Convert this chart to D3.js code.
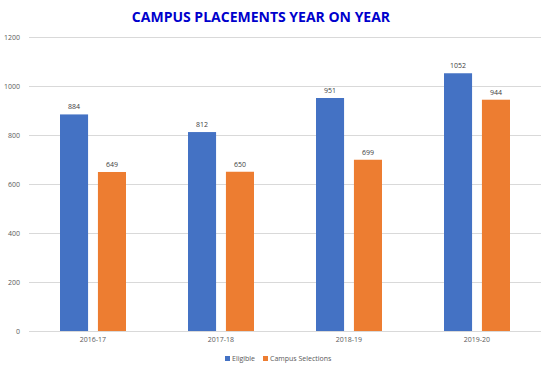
<!DOCTYPE html>
<html>
<head>
<meta charset="utf-8">
<script src="https://cdn.jsdelivr.net/npm/d3@7"></script>
<style>
  html, body { margin: 0; padding: 0; background: #fff; }
  svg { display: block; font-family: "Open Sans", "Noto Sans", sans-serif; }
</style>
</head>
<body>
<svg id="chart" width="550" height="370"></svg>
<script>
const categories = ["2016-17", "2017-18", "2018-19", "2019-20"];
const seriesNames = ["Eligible", "Campus Selections"];
const eligible = [884, 812, 951, 1052];
const selections = [649, 650, 699, 944];
const yTicks = [0, 200, 400, 600, 800, 1000, 1200];
const colors = ["#4472C4", "#ED7D31"];

const svg = d3.select("#chart");
const plotLeft = 29, plotRight = 541, plotTop = 37, plotBottom = 331;

const x = d3.scaleBand().domain(categories).range([plotLeft, plotRight]).paddingInner(0).paddingOuter(0);
const xs = d3.scaleBand().domain(seriesNames).range([0, 66]).paddingInner(0.26);
const y = d3.scaleLinear().domain([0, 1200]).range([plotBottom, plotTop]);

// title
svg.append("text")
  .attr("x", 261).attr("y", 22)
  .attr("text-anchor", "middle")
  .attr("font-size", 14)
  .attr("font-weight", "bold")
  .attr("fill", "#0000CC")
  .text("CAMPUS PLACEMENTS YEAR ON YEAR");

// gridlines
svg.append("g").selectAll("line").data(yTicks).join("line")
  .attr("x1", plotLeft).attr("x2", plotRight)
  .attr("y1", d => y(d) + 0.5).attr("y2", d => y(d) + 0.5)
  .attr("stroke", "#d9d9d9").attr("stroke-width", 1);

// y axis labels
const yAxis = d3.axisLeft(y).tickValues(yTicks).tickSize(0).tickPadding(0).tickFormat(d3.format("d"));
const yg = svg.append("g").attr("transform", "translate(20,0)").call(yAxis);
yg.select(".domain").remove();
yg.selectAll("text").attr("font-size", 7).attr("fill", "#595959").attr("font-family", "Open Sans, sans-serif");

// x axis labels
const xAxis = d3.axisBottom(x).tickSize(0).tickPadding(0);
const xg = svg.append("g").attr("transform", `translate(0,${plotBottom + 6})`).call(xAxis);
xg.select(".domain").remove();
xg.selectAll("text").attr("font-size", 7).attr("fill", "#595959").attr("font-family", "Open Sans, sans-serif");

// bars
const data = categories.map((c, i) => ({ cat: c, vals: [eligible[i], selections[i]] }));
const groups = svg.append("g").selectAll("g").data(data).join("g")
  .attr("transform", d => `translate(${x(d.cat) + (x.bandwidth() - 66) / 2},0)`);

groups.selectAll("rect").data(d => d.vals.map((v, j) => ({ v, s: seriesNames[j], j })))
  .join("rect")
  .attr("x", d => xs(d.s))
  .attr("width", xs.bandwidth())
  .attr("y", d => y(d.v))
  .attr("height", d => y(0) - y(d.v))
  .attr("fill", d => colors[d.j]);

groups.selectAll("text.lbl").data(d => d.vals.map((v, j) => ({ v, s: seriesNames[j], j })))
  .join("text")
  .attr("class", "lbl")
  .attr("x", d => xs(d.s) + xs.bandwidth() / 2)
  .attr("y", d => y(d.v) - 5)
  .attr("text-anchor", "middle")
  .attr("font-size", 7)
  .attr("fill", "#404040")
  .text(d => d.v);

// legend
const legend = svg.append("g");
const legendItems = [{ name: seriesNames[0], x: 225 }, { name: seriesNames[1], x: 263 }];
legendItems.forEach((it, i) => {
  legend.append("rect").attr("x", it.x).attr("y", 356).attr("width", 5).attr("height", 5).attr("fill", colors[i]);
  legend.append("text").attr("x", it.x + 7).attr("y", 361).attr("font-size", 7).attr("fill", "#595959").text(it.name);
});
</script>
</body>
</html>
